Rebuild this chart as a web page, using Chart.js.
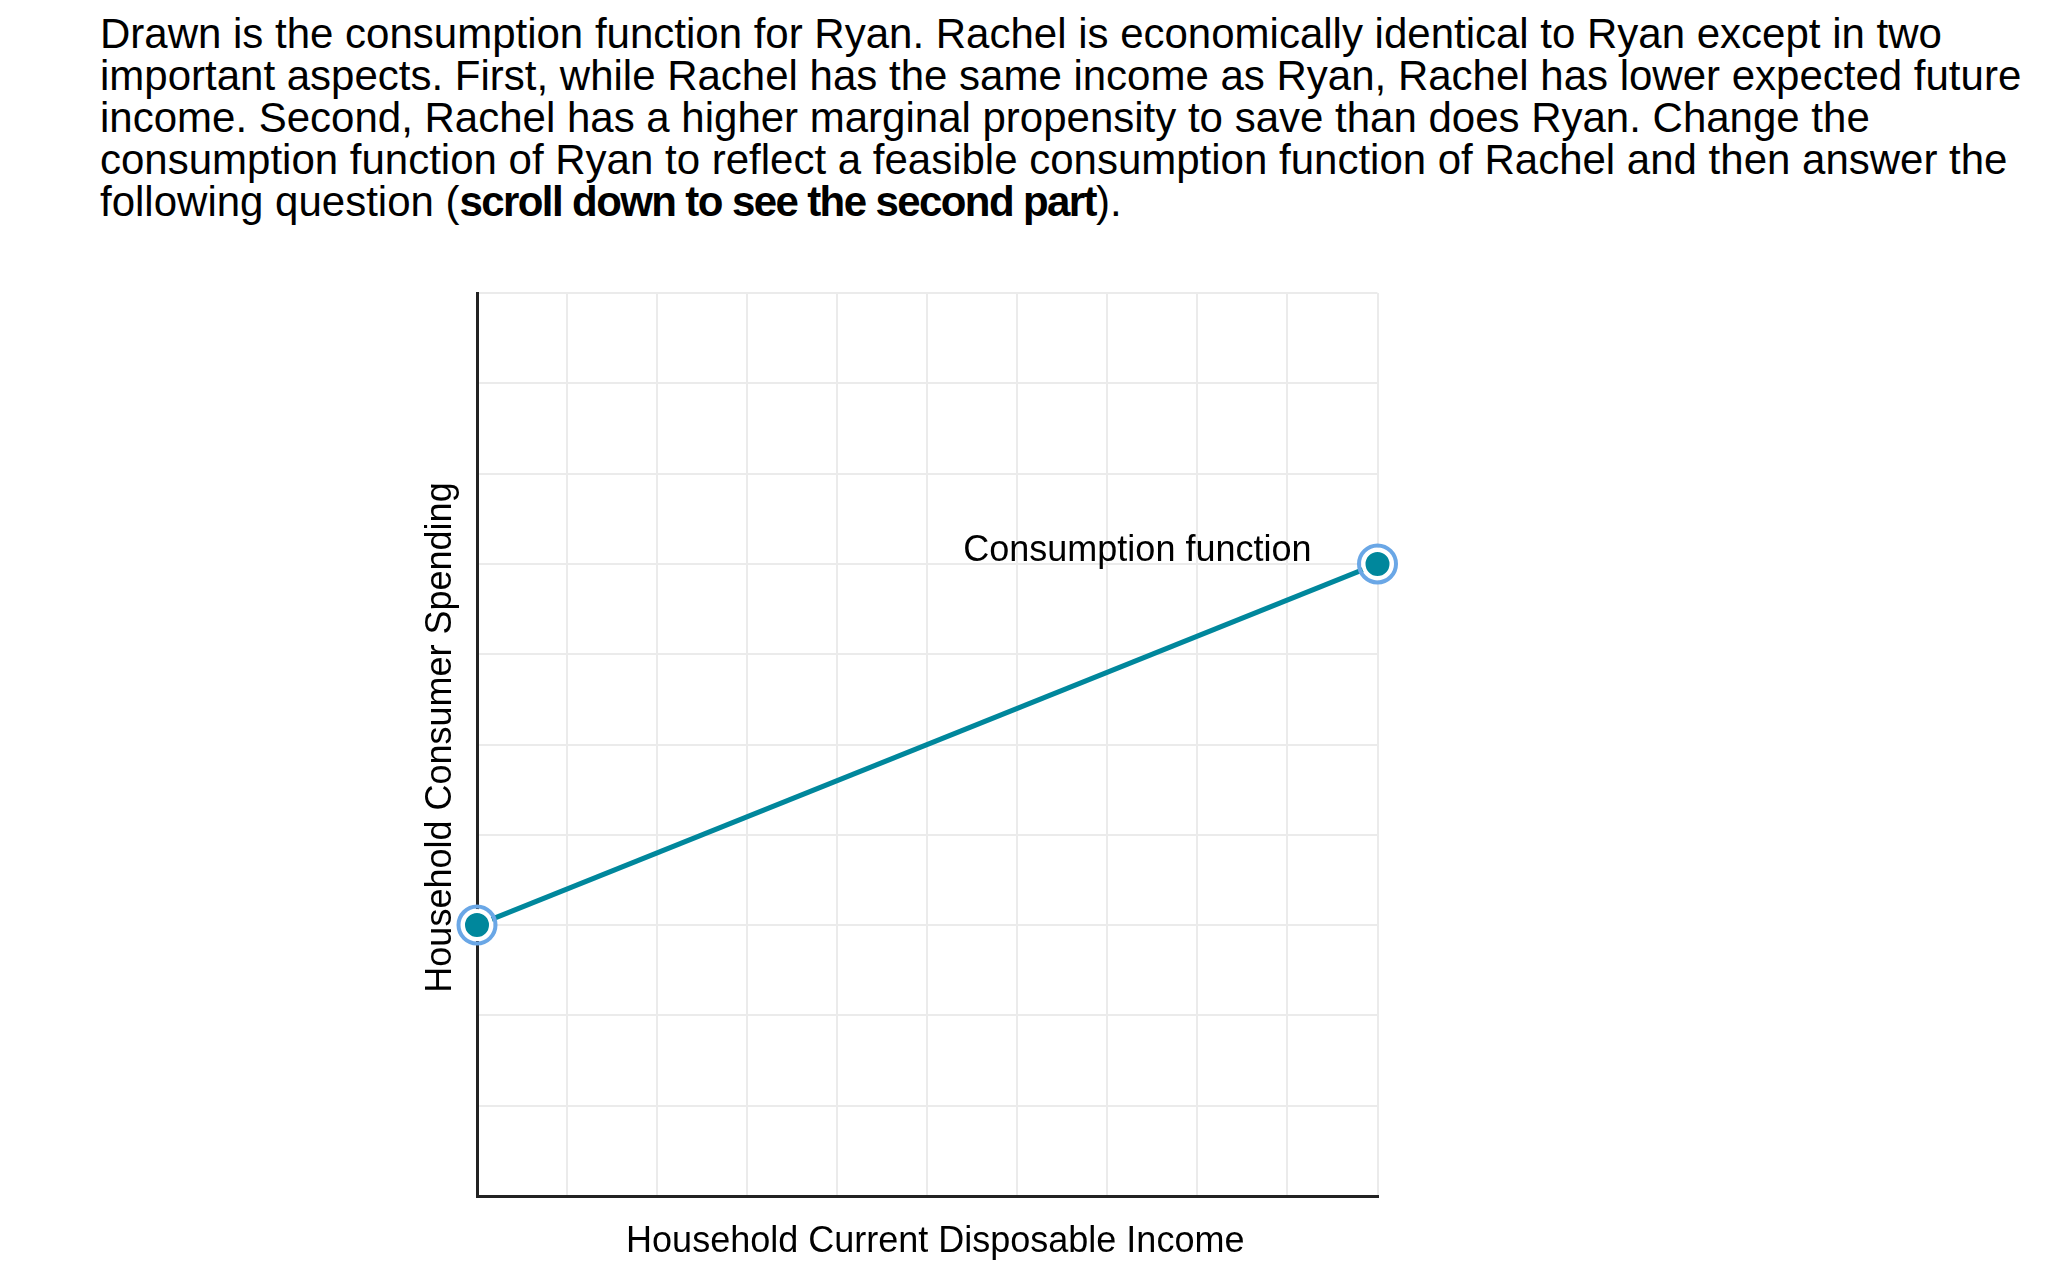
<!DOCTYPE html>
<html>
<head>
<meta charset="utf-8">
<script src="https://cdn.jsdelivr.net/npm/chart.js@4"></script>
<style>
  html, body { margin: 0; padding: 0; background: #fff; }
  body { width: 2046px; height: 1277px; position: relative; overflow: hidden; }
  #question {
    position: absolute; left: 100px; top: 13px; width: 1940px;
    font-family: "Liberation Sans", Arial, sans-serif;
    font-size: 42px; line-height: 42px; color: #000;
  }
  #question b { letter-spacing: -1.6px; }
  #wrap { position: absolute; left: 400px; top: 260px; width: 1000px; height: 1017px; }
</style>
</head>
<body>
<div id="question">Drawn is the consumption function for Ryan. Rachel is economically identical to Ryan except in two<br>important aspects. First, while Rachel has the same income as Ryan, Rachel has lower expected future<br>income. Second, Rachel has a higher marginal propensity to save than does Ryan. Change the<br>consumption function of Ryan to reflect a feasible consumption function of Rachel and then answer the<br>following question (<b>scroll down to see the second part</b>).</div>
<div id="wrap"><canvas id="chart"></canvas></div>
<script>
const incomeValues = [0, 10];
const spendingValues = [3, 7];
const xAxisTitle = 'Household Current Disposable Income';
const yAxisTitle = 'Household Consumer Spending';
const curveLabel = 'Consumption function';

const teal = '#00879c';
const ringBlue = '#6aa7e6';
const font36 = '36px "Liberation Sans", Arial, sans-serif';
const points = incomeValues.map((x, i) => ({ x: x, y: spendingValues[i] }));

// curve label next to the last point, axis titles a little off-centre like the original
const textPlugin = {
  id: 'texts',
  afterDatasetsDraw(chart) {
    const { ctx, scales, chartArea } = chart;
    const last = points[points.length - 1];
    const px = scales.x.getPixelForValue(last.x);
    const py = scales.y.getPixelForValue(last.y);
    ctx.save();
    ctx.font = font36;
    ctx.fillStyle = '#000';
    ctx.textBaseline = 'middle';
    ctx.textAlign = 'right';
    ctx.fillText(curveLabel, px - 66, py - 13);

    ctx.textAlign = 'center';
    ctx.fillText(xAxisTitle, (chartArea.left + chartArea.right) / 2 + 8, chartArea.bottom + 46);

    ctx.translate(chartArea.left - 36, (chartArea.top + chartArea.bottom) / 2 - 7);
    ctx.rotate(-Math.PI / 2);
    ctx.fillText(yAxisTitle, 0, 0);
    ctx.restore();
  }
};

new Chart(document.getElementById('chart'), {
  type: 'scatter',
  data: {
    datasets: [
      {
        data: points,
        showLine: true,
        clip: false,
        borderColor: teal,
        borderWidth: 5,
        pointRadius: 14,
        pointHoverRadius: 14,
        pointBackgroundColor: teal,
        pointBorderColor: '#fff',
        pointBorderWidth: 4,
        order: 2
      },
      {
        data: points,
        showLine: false,
        clip: false,
        pointRadius: 18.5,
        pointHoverRadius: 18.5,
        pointBackgroundColor: 'rgba(0,0,0,0)',
        pointBorderColor: ringBlue,
        pointBorderWidth: 4,
        order: 1
      }
    ]
  },
  options: {
    responsive: true,
    maintainAspectRatio: false,
    animation: false,
    events: [],
    layout: { padding: { left: 0, top: 33, right: 20, bottom: 0 } },
    plugins: { legend: { display: false }, tooltip: { enabled: false } },
    scales: {
      x: {
        type: 'linear', min: 0, max: 10,
        ticks: { display: false, stepSize: 1 },
        grid: { color: '#ebebeb', lineWidth: 2, drawTicks: false },
        border: { display: true, color: '#222', width: 3 },
        afterFit(scale) { scale.height = 81; }
      },
      y: {
        type: 'linear', min: 0, max: 10,
        ticks: { display: false, stepSize: 1 },
        grid: { color: '#ebebeb', lineWidth: 2, drawTicks: false },
        border: { display: true, color: '#222', width: 3 },
        afterFit(scale) { scale.width = 77; }
      }
    }
  },
  plugins: [textPlugin]
});
</script>
</body>
</html>
